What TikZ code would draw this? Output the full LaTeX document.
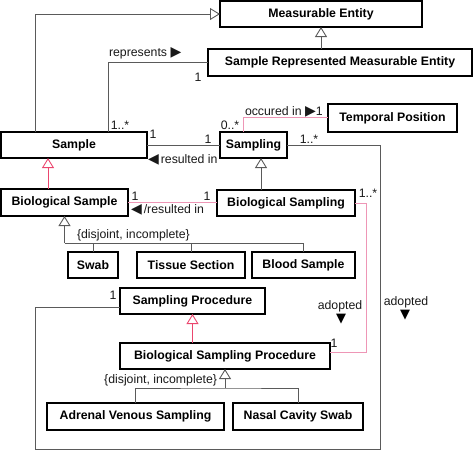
\documentclass[tikz,border=0pt]{standalone}
\usepackage{fontspec}
\setmainfont{Liberation Sans}
\newfontfamily\symfont{DejaVu Sans}
\usetikzlibrary{arrows.meta}
\definecolor{linegray}{RGB}{90,90,90}
\definecolor{pinkline}{RGB}{238,150,182}
\definecolor{pinkgen}{RGB}{235,70,110}
\newcommand{\trisym}[1]{{\symfont\fontsize{14}{12}\selectfont #1}}
\begin{document}
\begin{tikzpicture}[x=1pt,y=-1pt,
  font=\fontsize{12.3}{14}\selectfont,
  umlbox/.style={draw=black,line width=1.4pt,fill=white,inner sep=0pt,outer sep=0pt,anchor=north west,font=\fontsize{12.3}{14}\selectfont\bfseries},
  conn/.style={draw=linegray,line width=0.9pt},
  pconn/.style={draw=pinkline,line width=0.9pt},
  gen/.style={conn,-{Triangle[open,length=10pt,width=12pt,line width=0.9pt]}},
  pgen/.style={draw=pinkgen,line width=0.9pt,-{Triangle[open,length=10pt,width=12pt,line width=0.9pt]}},
  lbl/.style={inner sep=0pt,outer sep=0pt,text=black!90},
  tri/.style={inner sep=0pt,outer sep=0pt,font=\symfont\fontsize{13}{12}\selectfont}
]
\useasboundingbox (0,0) rectangle (474,472);
% boxes
\node[umlbox,minimum width=202pt,minimum height=26pt] (me) at (220,1) {Measurable Entity};
\node[umlbox,minimum width=264pt,minimum height=27pt] (srme) at (208,49) {Sample Represented Measurable Entity};
\node[umlbox,minimum width=146pt,minimum height=26pt] (sample) at (1,132) {Sample};
\node[umlbox,minimum width=67pt,minimum height=26pt] (sampling) at (220,132) {Sampling};
\node[umlbox,minimum width=129pt,minimum height=28pt] (tp) at (328,104) {Temporal Position};
\node[umlbox,minimum width=127pt,minimum height=27pt] (biosample) at (1,189) {Biological Sample};
\node[umlbox,minimum width=138pt,minimum height=26pt] (biosampling) at (217,190) {Biological Sampling};
\node[umlbox,minimum width=50pt,minimum height=26pt] (swab) at (68,252) {Swab};
\node[umlbox,minimum width=108pt,minimum height=26pt] (tissue) at (137,252) {Tissue Section};
\node[umlbox,minimum width=103pt,minimum height=26pt] (blood) at (252,252) {Blood Sample};
\node[umlbox,minimum width=145pt,minimum height=26pt] (sp) at (120,288) {Sampling Procedure};
\node[umlbox,minimum width=210pt,minimum height=26pt] (bsp) at (120,343) {Biological Sampling Procedure};
\node[umlbox,minimum width=177pt,minimum height=27pt] (avs) at (47,403) {Adrenal Venous Sampling};
\node[umlbox,minimum width=130pt,minimum height=27pt] (ncs) at (233,403) {Nasal Cavity Swab};
% corner coordinates
\coordinate (loopA) at (380,145);
\coordinate (loopB) at (380,449);
\coordinate (loopC) at (35,449);
\coordinate (pinkA) at (366,203);
\coordinate (pinkB) at (366,352);
\coordinate (setA) at (0,243);
\coordinate (setB) at (0,388);
% connectors
\draw[gen] ([xshift=34pt]sample.north west) |- (me.west);
\draw[gen] (me.south |- srme.north) -- (me.south);
\draw[conn] ([xshift=107pt]sample.north west) |- (srme.west);
\draw[conn] (sample.east) -- (sample.east -| sampling.west);
\draw[pconn] ([xshift=23pt]sampling.north west) |- ([yshift=1pt]tp.west);
\draw[conn] (sampling.east) -- (loopA) -- (loopB) -- (loopC) |- ([yshift=-6pt]sp.west);
\draw[gen] ([xshift=44pt]biosampling.north west) coordinate (g1) -- (g1 |- sampling.south);
\draw[pgen] ([xshift=47pt]biosample.north west) coordinate (g2) -- (g2 |- sample.south);
\draw[pconn] (biosample.east) -- (biosample.east -| biosampling.west);
\draw[pconn] (biosampling.east) -- (pinkA) -- (pinkB) -- (pinkB -| bsp.east);
\draw[gen] (biosample.south |- setA) -- (biosample.south);
\draw[conn] (biosample.south |- setA) -| (blood.north);
\draw[conn] (swab.north) -- (swab.north |- setA);
\draw[conn] (tissue.north) -- (tissue.north |- setA);
\draw[pgen] (sp.south |- bsp.north) -- (sp.south);
\draw[gen] (bsp.south |- setB) -- (bsp.south);
\draw[conn] (avs.north) |- (bsp.south |- setB) -| (ncs.north);
% labels
\node[lbl,anchor=west] (lrep) at (109,53) {represents \trisym{▶}};
\node[lbl] (m1) at (198,77) {1};
\node[lbl] (m2) at (120,125) {1..*};
\node[lbl] (m3) at (153,134) {1};
\node[lbl] (m4) at (208,139) {1};
\node[lbl] (m5) at (230,125) {0..*};
\node[lbl,anchor=west] (locc) at (245,112) {occured in \trisym{▶}1};
\node[lbl,anchor=west] (lres) at (148,160) {\trisym{◀}\,resulted in};
\node[lbl] (m6) at (309,139) {1..*};
\node[lbl] (m7) at (135,196) {1};
\node[lbl] (m8) at (207,196) {1};
\node[lbl,anchor=west] (lres2) at (131,210) {\trisym{◀}\,/resulted in};
\node[lbl] (m9) at (368,193) {1..*};
\node[lbl,anchor=west] (dis1) at (77,235) {\{disjoint, incomplete\}};
\node[lbl] (m10) at (113,295) {1};
\node[lbl] (ad1) at (340,306) {adopted};
\node[tri] (ad1t) at (341,319) {▼};
\node[lbl] (ad2) at (406,302) {adopted};
\node[tri] (ad2t) at (405,315) {▼};
\node[lbl] (m11) at (334,343) {1};
\node[lbl,anchor=east] (dis2) at (217,380) {\{disjoint, incomplete\}};
\end{tikzpicture}
\end{document}
